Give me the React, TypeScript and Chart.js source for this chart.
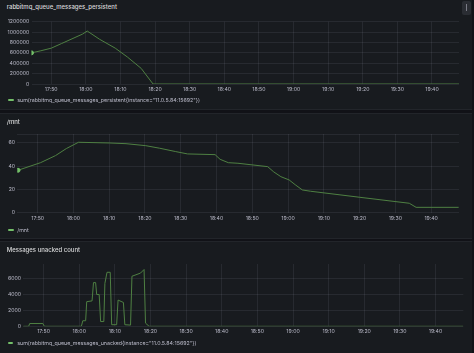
import React, { useEffect, useRef } from "react";
import { Chart, registerables } from "chart.js";
Chart.register(...registerables);

// Time axis (minutes after 17:00)
const X_MIN = 44.3;
const X_MAX = 167.8;
const timeTicks = [50, 60, 70, 80, 90, 100, 110, 120, 130, 140, 150, 160];
const timeLabels = ["17:50", "18:00", "18:10", "18:20", "18:30", "18:40", "18:50", "19:00", "19:10", "19:20", "19:30", "19:40"];

// Panel 1: rabbitmq_queue_messages_persistent
const persistentMinutes = [44.3, 47, 50, 53, 56, 59, 60.4, 64, 68.5, 72, 76, 79.4, 167.8];
const persistentValues = [600000, 640000, 690000, 780000, 870000, 960000, 1020000, 860000, 690000, 520000, 300000, 0, 0];
const persistentTicks = [0, 200000, 400000, 600000, 800000, 1000000, 1200000];

// Panel 2: /mnt
const mntMinutes = [44.5, 50.8, 55, 58, 61.4, 70.1, 74.7, 80.2, 84.1, 88.6, 91.9, 99.6, 101, 103.3, 106, 114.3, 116, 118, 120.3, 122, 124, 126.3, 140.1, 153.9, 155.8, 167.7];
const mntValues = [36.4, 42.9, 49, 55, 60.4, 59.8, 59.2, 57.5, 55.3, 52.4, 50.4, 49.8, 45.8, 42.9, 42.4, 39.5, 35, 30.9, 28.1, 24, 19.5, 18.4, 13.2, 8.1, 4.6, 4.6];
const mntTicks = [0, 20, 40, 60];

// Panel 3: Messages unacked count
const unackedMinutes = [44.3, 45.8, 46.1, 49.8, 50.2, 60.6, 61.0, 61.8, 62.1, 63.6, 64.0, 64.6, 64.9, 65.6, 66.0, 66.9, 67.2, 67.8, 68.7, 69.1, 70.5, 70.9, 72.4, 72.8, 74.4, 74.8, 77.2, 78.2, 78.6, 79.6, 167.8];
const unackedValues = [0, 0, 350, 350, 0, 0, 700, 700, 3100, 3200, 5500, 5500, 4000, 4000, 600, 600, 5400, 6800, 6800, 200, 200, 3300, 3000, 200, 150, 6300, 6700, 7150, 400, 0, 0];
const unackedTicks = [0, 1000, 2000, 3000, 4000, 5000, 6000, 7000];

const GREEN = "#73BF69";
const LINE = "#4f8043";
const TEXT = "rgba(204,204,220,0.9)";
const GRID = "rgba(204,204,220,0.09)";
const FONT = "Inter, 'Noto Sans', sans-serif";

type PanelChartProps = {
  minutes: number[];
  values: number[];
  yTicks: number[];
  yMax: number;
  topLine?: boolean;
  firstDot?: boolean;
  plotLeft: number;
  plotRight: number;
  plotTop: number;
  plotBottom: number;
};

function PanelChart(p: PanelChartProps) {
  const ref = useRef<HTMLCanvasElement | null>(null);
  const canvasTop = Math.floor(p.plotTop - 8);
  const padTop = p.plotTop - canvasTop;
  const height = Math.ceil(p.plotBottom + 12 - canvasTop);
  const xAxisH = canvasTop + height - p.plotBottom;
  const width = Math.ceil(p.plotRight);
  const padRight = width - p.plotRight;

  useEffect(() => {
    if (!ref.current) return;
    const data = p.minutes.map((m, i) => ({ x: m, y: p.values[i] }));
    const radii = p.values.map((_, i) => (p.firstDot && i === 0 ? 2 : 0));
    const chart = new Chart(ref.current, {
      type: "line",
      data: {
        datasets: [
          {
            data,
            borderColor: LINE,
            borderWidth: 1,
            pointRadius: radii,
            pointBackgroundColor: GREEN,
            pointBorderColor: GREEN,
            tension: 0,
            fill: false,
          },
        ],
      },
      options: {
        animation: false,
        responsive: false,
        devicePixelRatio: 1,
        layout: { padding: { top: padTop, right: padRight, left: 0, bottom: 0 } },
        plugins: { legend: { display: false }, tooltip: { enabled: false } },
        scales: {
          x: {
            type: "linear",
            min: X_MIN,
            max: X_MAX,
            afterBuildTicks: (s: any) => {
              s.ticks = timeTicks.map((v) => ({ value: v }));
            },
            afterFit: (s: any) => {
              s.height = xAxisH;
            },
            ticks: {
              autoSkip: false,
              maxRotation: 0,
              padding: 2.5,
              color: TEXT,
              font: { family: FONT, size: 5.2 },
              callback: (v: any) => {
                const i = timeTicks.indexOf(Number(v));
                return i >= 0 ? timeLabels[i] : "";
              },
            },
            grid: { color: GRID, drawTicks: false },
            border: { display: false },
          },
          y: {
            type: "linear",
            min: 0,
            max: p.yMax,
            afterBuildTicks: (s: any) => {
              const t = p.yTicks.map((v) => ({ value: v }));
              if (p.topLine) t.push({ value: p.yMax });
              s.ticks = t;
            },
            afterFit: (s: any) => {
              s.width = p.plotLeft;
            },
            ticks: {
              padding: 2.2,
              color: TEXT,
              font: { family: FONT, size: 5.2 },
              callback: (v: any) => (p.yTicks.indexOf(Number(v)) >= 0 ? String(v) : ""),
            },
            grid: { color: GRID, drawTicks: false },
            border: { display: false },
          },
        },
      },
    });
    return () => chart.destroy();
  }, []);

  return (
    <canvas
      ref={ref}
      width={width}
      height={height}
      style={{ position: "absolute", left: 0, top: canvasTop, width, height }}
    />
  );
}

const titleStyle = (top: number): React.CSSProperties => ({
  position: "absolute",
  left: 6.7,
  top: top - 5,
  height: 10,
  lineHeight: "10px",
  fontFamily: FONT,
  fontWeight: 500,
  fontSize: 6.0,
  color: "rgba(216,217,218,1)",
  whiteSpace: "nowrap",
});

function Legend({ top, dashLeft, text }: { top: number; dashLeft: number; text: string }) {
  return (
    <>
      <div
        style={{
          position: "absolute",
          left: dashLeft,
          top: top - 1,
          width: 5.6,
          height: 2,
          background: GREEN,
          borderRadius: 1,
        }}
      />
      <div
        style={{
          position: "absolute",
          left: 17.3,
          top: top - 5,
          height: 10,
          lineHeight: "10px",
          fontFamily: FONT,
          fontSize: 5.3,
          color: TEXT,
          whiteSpace: "nowrap",
        }}
      >
        {text}
      </div>
    </>
  );
}

const panelStyle = (top: number, h: number): React.CSSProperties => ({
  position: "absolute",
  left: 0,
  top,
  width: 472,
  height: h,
  background: "#181b1f",
  borderTop: "1px solid rgba(204,204,220,0.06)",
  borderBottom: "1px solid rgba(204,204,220,0.06)",
  boxSizing: "border-box",
});

export default function App() {
  return (
    <div
      style={{
        position: "fixed",
        left: 0,
        top: 0,
        width: 474,
        height: 353,
        background: "#111217",
        overflow: "hidden",
      }}
    >
      <div style={panelStyle(-2, 112)} />
      <div style={panelStyle(113, 126)} />
      <div style={panelStyle(241, 116)} />
      <div
        style={{
          position: "absolute",
          left: 462,
          top: 1,
          width: 9,
          height: 14,
          background: "#2a2d33",
          borderRadius: 2,
        }}
      />
      <div
        style={{
          position: "absolute",
          left: 466,
          top: 4,
          width: 1,
          height: 7,
          background: "rgba(204,204,220,0.5)",
        }}
      />

      <div style={titleStyle(7.3)}>rabbitmq_queue_messages_persistent</div>
      <PanelChart
        minutes={persistentMinutes}
        values={persistentValues}
        yTicks={persistentTicks}
        yMax={1200000}
        firstDot
        plotLeft={31.5}
        plotRight={463.3}
        plotTop={21.7}
        plotBottom={84}
      />
      <Legend top={100} dashLeft={8.3} text={'sum(rabbitmq_queue_messages_persistent{instance="11.0.5.84:15692"})'} />

      <div style={titleStyle(121.7)}>/mnt</div>
      <PanelChart
        minutes={mntMinutes}
        values={mntValues}
        yTicks={mntTicks}
        yMax={67.5}
        topLine
        firstDot
        plotLeft={17.3}
        plotRight={463.3}
        plotTop={134}
        plotBottom={212.7}
      />
      <Legend top={230} dashLeft={8.3} text="/mnt" />

      <div style={titleStyle(250)}>Messages unacked count</div>
      <PanelChart
        minutes={unackedMinutes}
        values={unackedValues}
        yTicks={unackedTicks}
        yMax={7844}
        plotLeft={23.3}
        plotRight={463.3}
        plotTop={264}
        plotBottom={326.3}
      />
      <Legend top={343.3} dashLeft={7.5} text={'sum(rabbitmq_queue_messages_unacked{instance="11.0.5.84:15692"})'} />
    </div>
  );
}
